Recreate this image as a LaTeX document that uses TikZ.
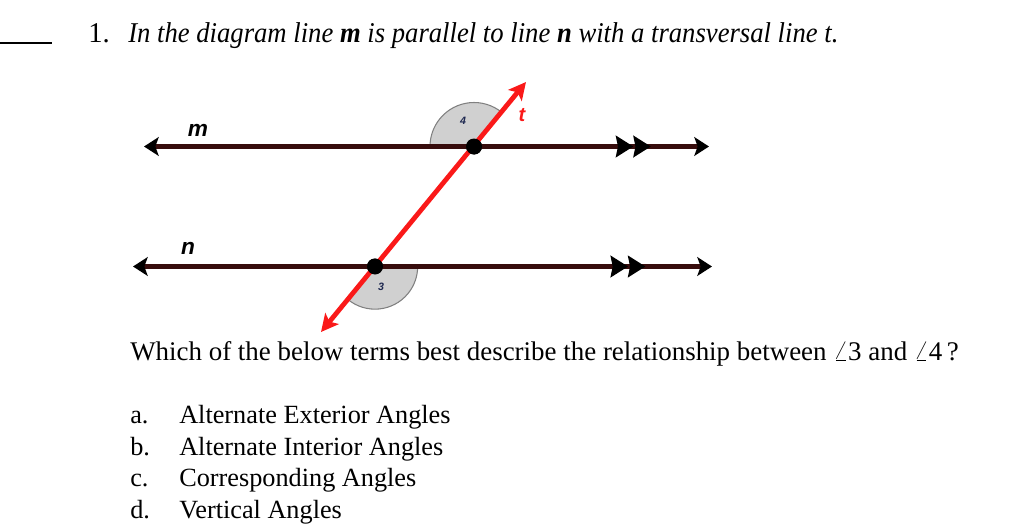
\documentclass[tikz,border=0pt]{standalone}
\usepackage{fontspec}
\setmainfont{Liberation Serif}
\newfontfamily\labelfont{Liberation Sans}
\newfontfamily\titlefont[FakeStretch=0.93]{Liberation Serif}
\usetikzlibrary{arrows.meta,positioning,calc,decorations.markings}
\definecolor{linebrown}{RGB}{55,12,12}
\definecolor{transred}{RGB}{250,25,25}
\definecolor{sectorgray}{RGB}{208,208,208}
\definecolor{numblue}{RGB}{30,40,80}
\tikzset{
    >={Stealth[]},
    parmark/.tip={Stealth[length=13pt,width=16pt,inset=1.5pt,color=black]},
    endtip/.tip={Stealth[length=11pt,width=14pt,inset=2.5pt,color=black]},
    redtip/.tip={Stealth[length=13pt,width=13pt,inset=3pt]},
    parline/.style={draw=linebrown,line width=3.6pt,endtip-endtip},
    transline/.style={draw=transred,line width=3.6pt,redtip-redtip},
    dot/.style={circle,fill=black,minimum size=12pt,inner sep=0pt},
    sector/.style={fill=sectorgray,draw=gray,line width=0.8pt},
    linelabel/.style={font=\labelfont\bfseries\itshape\fontsize{17}{17}\selectfont,inner sep=0pt},
    anglenum/.style={font=\labelfont\bfseries\itshape\fontsize{8}{8}\selectfont,text=numblue,inner sep=0pt},
    plaintext/.style={anchor=base west,inner sep=0pt,font=\fontsize{20.2}{24}\selectfont},
    choice/.style={plaintext,font=\fontsize{19.7}{24}\selectfont}
}

\begin{document}
\begin{tikzpicture}[x=0.75pt,y=-0.75pt]
    \useasboundingbox (0,0) rectangle (1024,528);
    % question header
    \draw[line width=1pt] (0,43) -- (52,43);
    \node[plaintext,font=\fontsize{21.5}{24}\selectfont] (num) at (88,43) {1.};
    \node[plaintext,font=\titlefont\itshape\fontsize{21.5}{24}\selectfont] (title) at (128,43)
        {In the diagram line \textbf{m} is parallel to line \textbf{n} with a transversal line t.};
    % points and ends
    \node[dot] (P4) at (474,146.5) {};
    \node[dot] (P3) at (375,266.5) {};
    \coordinate (mL) at (144,146.5);
    \coordinate (mR) at (709,146.5);
    \coordinate (nL) at (133,266.5);
    \coordinate (nR) at (712,266.5);
    \coordinate (tTop) at (526,82);
    \coordinate (tBot) at (321,332);
    % angle sectors
    \fill[sector] (P4.center) -- ++(50.6:33pt) arc[start angle=50.6,end angle=180,radius=33pt] -- cycle;
    \fill[sector] (P3.center) -- ++(230.6:32pt) arc[start angle=230.6,end angle=360,radius=32pt] -- cycle;
    \node[anglenum] (a4) at (463,121) {4};
    \node[anglenum] (a3) at (381,287) {3};
    % parallel lines
    \draw[parline,postaction={decorate},decoration={markings,
        mark=at position 0.866 with {\arrow{parmark}},
        mark=at position 0.897 with {\arrow{parmark}}}] (mL) -- (mR);
    \draw[parline,postaction={decorate},decoration={markings,
        mark=at position 0.855 with {\arrow{parmark}},
        mark=at position 0.885 with {\arrow{parmark}}}] (nL) -- (nR);
    % transversal
    \draw[transline] (tBot) -- (tTop);
    \node[dot] at (P4) {};
    \node[dot] at (P3) {};
    \node[linelabel] (mlab) at (198,130) {m};
    \node[linelabel] (nlab) at (188,248) {n};
    \node[linelabel,text=transred,font=\labelfont\bfseries\itshape\fontsize{15}{15}\selectfont] (tlab) at (522,115) {t};
    % question and choices
    \node[plaintext] (ask) at (130,360)
        {Which of the below terms best describe the relationship between $\angle$3 and $\angle$4\,?};
    \node[choice] (ca) at (130,423) {a.};
    \node[choice] (cb) at (130,455) {b.};
    \node[choice] (cc) at (130,486) {c.};
    \node[choice] (cd) at (130,518) {d.};
    \node[choice] (ta) at (179,423) {Alternate Exterior Angles};
    \node[choice] (tb) at (179,455) {Alternate Interior Angles};
    \node[choice] (tc) at (179,486) {Corresponding Angles};
    \node[choice] (td) at (179,518) {Vertical Angles};
\end{tikzpicture}
\end{document}
